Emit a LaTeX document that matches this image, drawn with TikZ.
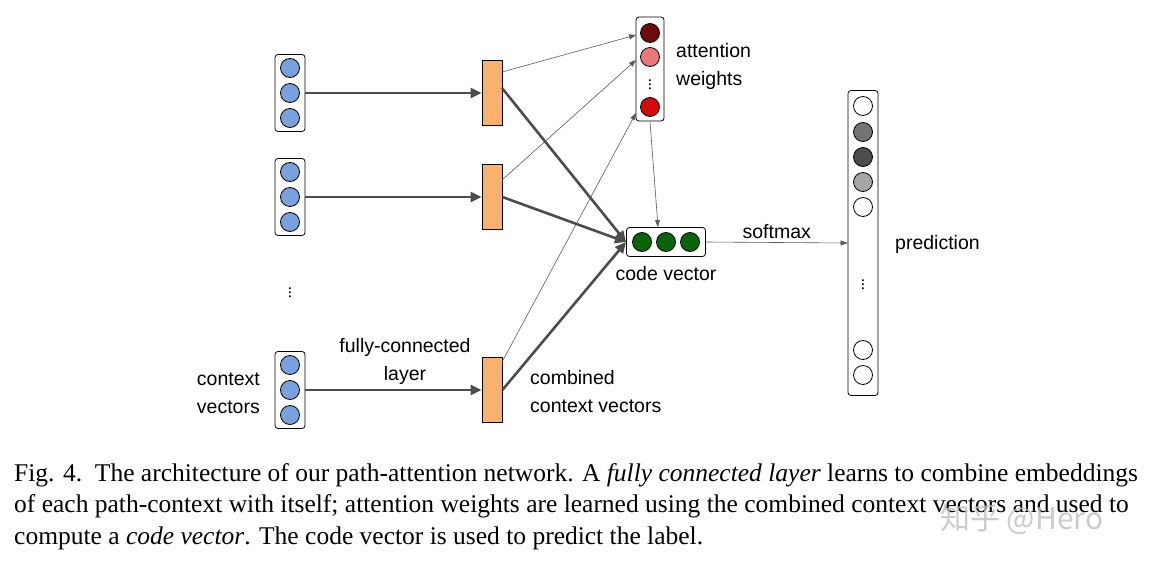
\documentclass[tikz,border=0pt]{standalone}
\usepackage{fontspec}
\setmainfont{Liberation Serif}
\newfontfamily\sansf{Liberation Sans}
\newfontfamily\cjk{Noto Sans CJK SC}
\usetikzlibrary{arrows.meta}
\begin{document}
\begin{tikzpicture}[x=1pt,y=-1pt,
  box/.style={draw,thick,rounded corners=3pt,fill=white},
  circ/.style={draw,thick,circle,minimum size=19pt,inner sep=0pt},
  orng/.style={draw,thick,fill={rgb,255:red,250;green,176;blue,110},minimum width=20pt,minimum height=65pt,inner sep=0pt},
  thk/.style={draw=black!70,line width=2.6pt,-{Triangle[length=11pt,width=10pt]}},
  thn/.style={draw=black!65,line width=0.6pt,-{Triangle[length=7pt,width=5pt]}},
  lbl/.style={font=\sansf\fontsize{19.5}{28}\selectfont,inner sep=0pt},
  dts/.style={font=\fontsize{17}{17}\selectfont,inner sep=0pt}]
\useasboundingbox (0,0) rectangle (1163,573);
% context vectors
\foreach \n/\y in {1/93,2/197,3/390}{
  \node[box,minimum width=30pt,minimum height=77pt] (c\n) at (290,\y) {};
  \foreach \d in {-25,0,25}{\node[circ,fill={rgb,255:red,122;green,160;blue,222}] at (290,\y+\d) {};}
  \node[orng] (o\n) at (492,\y) {};
  \draw[thk] (c\n.east) -- (o\n.west);
}
\node[dts] (vd) at (290,290) {$\vdots$};
% attention
\node[box,minimum width=28pt,minimum height=104pt] (att) at (650,69) {};
\node[circ,fill={rgb,255:red,110;green,10;blue,10}] (a1) at (650,33) {};
\node[circ,fill={rgb,255:red,232;green,120;blue,120}] (a2) at (650,57) {};
\node[dts] (ad) at (650,82) {$\vdots$};
\node[circ,fill={rgb,255:red,210;green,10;blue,10}] (a3) at (650,107) {};
\node[lbl,align=left,anchor=west] (attl) at (676,66) {attention\\weights};
% code vector
\node[box,minimum width=79pt,minimum height=29pt] (cv) at (666,242) {};
\foreach \x in {642,666,690}{\node[circ,fill={rgb,255:red,10;green,100;blue,10}] at (\x,242) {};}
\node[lbl] (cvl) at (666,274) {code vector};
% prediction
\node[box,minimum width=30pt,minimum height=305pt] (pr) at (863,243) {};
\foreach \y/\c in {106/white,132/black!55,157/black!70,182/black!35,207/white,350/white,375/white}{\node[circ,fill=\c] at (863,\y) {};}
\node[dts] (pd) at (863,282) {$\vdots$};
\node[lbl,anchor=west] (prl) at (895,244) {prediction};
% connectors
\coordinate (o1a) at (502,72); \coordinate (o1b) at (502,88);
\coordinate (o2a) at (502,180); \coordinate (o3a) at (502,362);
\coordinate (t1) at (636,35); \coordinate (t2) at (636,60); \coordinate (t3) at (636,113);
\coordinate (cvin) at (626,242);
\draw[thk] (o1b) -- (cvin);
\draw[thk] (o2.east) -- (cvin);
\draw[thk] (o3.east) -- (cvin);
\draw[thn] (o1a) -- (t1);
\draw[thn] (o2a) -- (t2);
\draw[thn] (o3a) -- (t3);
\draw[thn] (att.south) -- ([xshift=-8pt]cv.north);
\draw[thn] (cv.east) -- node[above=4pt,lbl] {softmax} (pr.west);
% labels
\node[lbl,align=right,anchor=east] (cl) at (260,393) {context\\vectors};
\node[lbl,align=center] (fl) at (405,361) {fully-connected\\layer};
\node[lbl,align=left,anchor=west] (ccl) at (530,392) {combined\\context vectors};
% caption
\node[anchor=north west,align=left,inner sep=0pt,font=\fontsize{25.5}{31.5}\selectfont] (cap) at (14,463)
{Fig. 4.\ \ The architecture of our path-attention network. A \textit{fully connected layer} learns to combine embeddings\\
of each path-context with itself; attention weights are learned using the combined context vectors and used to\\
compute a \textit{code vector}. The code vector is used to predict the label.};
\node[anchor=west,inner sep=0pt,font=\cjk\fontsize{30}{32}\selectfont,text=black!25,opacity=0.8] (wm) at (940,519) {知乎 @Hero};
\end{tikzpicture}
\end{document}
